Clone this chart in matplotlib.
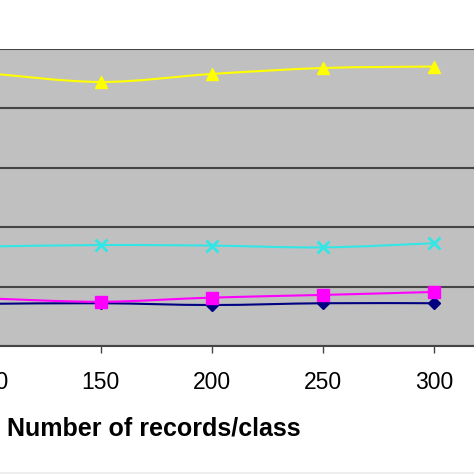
import matplotlib
matplotlib.use("Agg")
import matplotlib.pyplot as plt
import numpy as np
from matplotlib.path import Path
from matplotlib.patches import PathPatch, Rectangle

plt.rcParams['font.family'] = ['Liberation Sans', 'DejaVu Sans']

records = [100, 150, 200, 250, 300]
series_yellow = [91.8, 88.9, 91.6, 93.6, 94.1]
series_cyan = [33.5, 34.0, 33.8, 33.2, 34.6]
series_magenta = [16.0, 14.9, 16.3, 17.2, 18.2]
series_navy = [14.2, 14.4, 13.8, 14.4, 14.4]
xlabel = "Number of records/class"

W, H = 474, 474
fig = plt.figure(figsize=(W / 100, H / 100), dpi=100)
fig.patches.append(Rectangle((0, 0), 1, 2 / H, transform=fig.transFigure,
                             facecolor='#EEEEEE', edgecolor='none'))
ax = fig.add_axes([-66 / W, (H - 346) / H, 556 / W, 297 / H])
ax.set_facecolor('#C0C0C0')
ax.set_xlim(75, 325)
ax.set_ylim(0, 100)
ax.set_yticks(np.arange(0, 101, 20))
ax.yaxis.grid(True, color='#454545', linewidth=1.5, zorder=1)
ax.set_axisbelow(True)
for s in ['left', 'right', 'top']:
    ax.spines[s].set_visible(False)
ax.spines['bottom'].set_color('#454545')
ax.spines['bottom'].set_linewidth(1.5)
ax.tick_params(axis='y', left=False, labelleft=False)
ax.set_xticks(records)
ax.set_xticklabels([str(r) for r in records])
ax.tick_params(axis='x', direction='out', length=5, width=1, color='#454545',
               labelsize=16.5, pad=13, labelcolor='black')


def smooth_line(xs, ys, color, lw):
    xs = np.asarray(xs, float)
    ys = np.asarray(ys, float)
    pts = np.column_stack([xs, ys])
    n = len(pts)
    verts = [pts[0]]
    codes = [Path.MOVETO]
    for i in range(n - 1):
        p0 = pts[i - 1] if i > 0 else pts[i]
        p1 = pts[i]
        p2 = pts[i + 1]
        p3 = pts[i + 2] if i + 2 < n else pts[i + 1]
        c1 = p1 + (p2 - p0) / 6.0
        c2 = p2 - (p3 - p1) / 6.0
        verts += [c1, c2, p2]
        codes += [Path.CURVE4] * 3
    patch = PathPatch(Path(verts, codes), facecolor='none', edgecolor=color,
                      linewidth=lw, zorder=3, transform=ax.transData)
    ax.add_patch(patch)


smooth_line(records, series_navy, '#000080', 1.5)
ax.plot(records, series_navy, linestyle='none', marker='D', ms=6,
        color='#000080', zorder=4)
smooth_line(records, series_magenta, '#FF00FF', 1.5)
ax.plot(records, series_magenta, linestyle='none', marker='s', ms=8,
        color='#FF00FF', zorder=4)
smooth_line(records, series_cyan, '#33E6E6', 1.5)
ax.plot(records, series_cyan, linestyle='none', marker='x', ms=8, mew=2,
        color='#33E6E6', zorder=4)
smooth_line(records, series_yellow, '#FFFF00', 1.5)
ax.plot(records, series_yellow, linestyle='none', marker='^', ms=9,
        color='#FFFF00', zorder=4)

fig.text(7 / W, 1 - 429 / H, xlabel, fontsize=18, fontweight='bold',
         ha='left', va='center', color='black')

fig.savefig('out.png', dpi=100)
